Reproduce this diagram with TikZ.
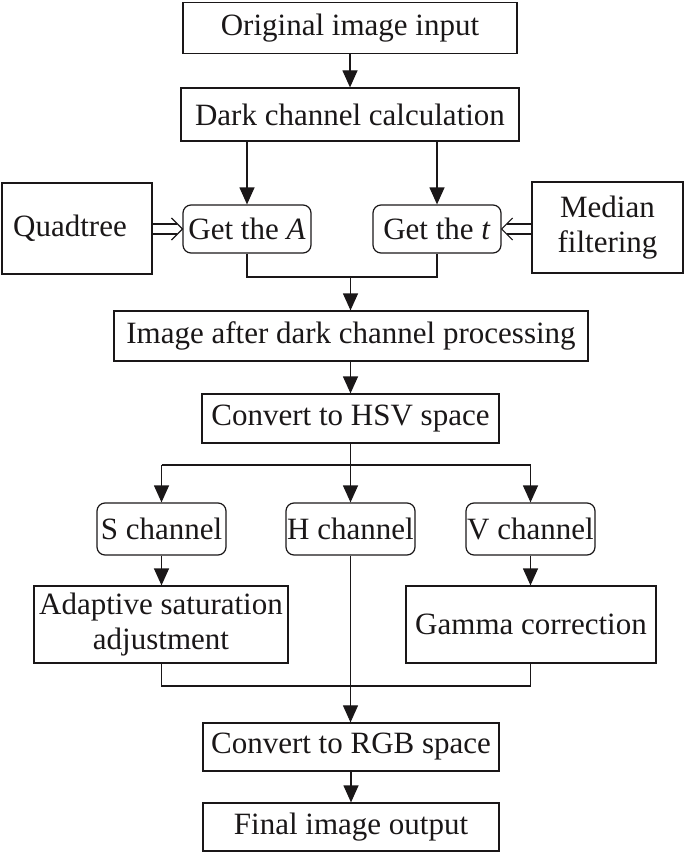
\documentclass[tikz,border=0pt]{standalone}
\usepackage{fontspec}
\setmainfont{Liberation Serif}
\usetikzlibrary{arrows.meta,calc}
\definecolor{ink}{HTML}{1A1718}
\begin{document}
\begin{tikzpicture}[x=1pt,y=-1pt,
  every node/.style={font=\fontsize{31}{35}\selectfont, text=ink, inner sep=0pt, align=center},
  box/.style={draw=ink, line width=1.2pt, minimum width=#1},
  rbox/.style={draw=ink, line width=1.2pt, rounded corners=8pt, minimum width=128pt, minimum height=#1},
  arr/.style={draw=ink, line width=1.2pt, -{Triangle[length=17pt,width=15pt]}},
  ln/.style={draw=ink, line width=1.2pt}]
\useasboundingbox (0,0) rectangle (685,853);
\node[box=334pt, minimum height=51pt] (b1) at (350,28) {Original image input};
\node[box=338pt, minimum height=53pt] (b2) at (350,114.5) {Dark channel calculation};
\node[box=150pt, minimum height=91pt] (q) at (77,228.5) {Quadtree\hspace*{14pt}};
\node[rbox=48pt] (ga) at (247,229) {Get the \textit{A}};
\node[rbox=48pt] (gt) at (437,229) {Get the \textit{t}};
\node[box=151pt, minimum height=91pt] (mf) at (607.5,227.5) {Median\\filtering};
\node[box=474pt, minimum height=50pt] (b3) at (351,336) {Image after dark channel processing};
\node[box=297pt, minimum height=49pt] (b4) at (350.5,418.5) {Convert to HSV space};
\node[rbox=52pt, minimum width=129pt] (sc) at (161.5,529) {S channel};
\node[rbox=52pt, minimum width=129pt] (hc) at (350.5,529) {H channel};
\node[rbox=52pt, minimum width=129pt] (vc) at (530.5,529) {V channel};
\node[box=254pt, minimum height=77pt] (ad) at (161,624.5) {Adaptive saturation\\adjustment};
\node[box=250pt, minimum height=77pt] (gc) at (531,624.5) {Gamma correction};
\node[box=296pt, minimum height=48pt] (b5) at (351,747) {Convert to RGB space};
\node[box=296pt, minimum height=48pt] (b6) at (351,827) {Final image output};
\coordinate (m1) at (350.5,277);
\coordinate (m2) at (350.5,465);
\coordinate (m3) at (350.5,686);
\draw[arr] (b1.south -| b2) -- (b2.north);
\draw[arr] (b2.south -| ga) -- (ga.north);
\draw[arr] (b2.south -| gt) -- (gt.north);
% hollow double arrows
\draw[ln, line join=miter] ($(ga.west)+(-11,-11)$) -- (ga.west) -- ($(ga.west)+(-11,11)$);
\draw[ln] ($(q.east |- ga.west)+(0,-5)$) -- ($(ga.west)+(-5.5,-5)$);
\draw[ln] ($(q.east |- ga.west)+(0,5)$) -- ($(ga.west)+(-5.5,5)$);
\draw[ln, line join=miter] ($(gt.east)+(11,-11)$) -- (gt.east) -- ($(gt.east)+(11,11)$);
\draw[ln] ($(mf.west |- gt.east)+(0,-5)$) -- ($(gt.east)+(5.5,-5)$);
\draw[ln] ($(mf.west |- gt.east)+(0,5)$) -- ($(gt.east)+(5.5,5)$);
\draw[ln] (ga.south) |- (m1) -| (gt.south);
\draw[arr] (m1) -- (b3.north -| m1);
\draw[arr] (b3.south -| b4) -- (b4.north);
\draw[ln] (b4.south -| m2) -- (m2);
\draw[ln] (sc |- m2) -- (vc |- m2);
\draw[arr] (sc |- m2) -- (sc.north);
\draw[arr] (m2) -- (hc.north);
\draw[arr] (vc |- m2) -- (vc.north);
\draw[arr] (sc.south) -- (sc.south |- ad.north);
\draw[arr] (vc.south) -- (vc.south |- gc.north);
\draw[ln] (ad.south -| sc) |- (m3) -| (gc.south -| vc);
\draw[draw=ink, line width=0.9pt, -{Triangle[length=17pt,width=15pt]}] (hc.south) -- (b5.north -| hc);
\draw[arr] (b5.south) -- (b6.north);
\end{tikzpicture}
\end{document}
